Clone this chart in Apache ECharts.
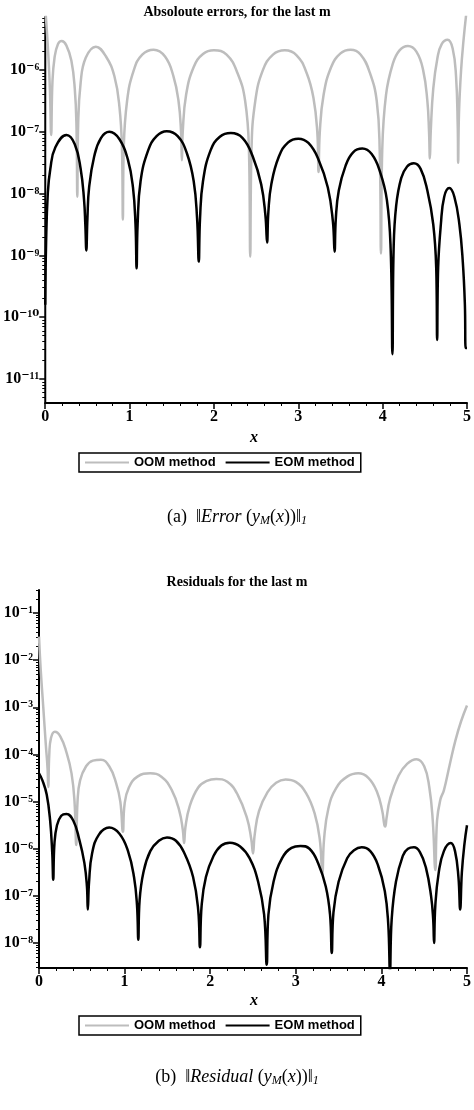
<!DOCTYPE html>
<html>
<head>
<meta charset="utf-8">
<script src="https://cdn.jsdelivr.net/npm/echarts@6/dist/echarts.min.js"></script>
<style>
  html, body { margin: 0; padding: 0; background: #fff; }
  #chart { width: 474px; height: 1110px; }
</style>
</head>
<body>
<div id="chart"></div>
<script>
// values are [x, log10(value)]
const errOOM = [[0,-5.0],[0.03,-5.6],[0.055,-6.3],[0.07,-7.05],[0.085,-6.2],[0.11,-5.8],[0.15,-5.58],[0.195,-5.53],[0.25,-5.6],[0.31,-5.85],[0.35,-6.3],[0.37,-6.9],[0.38,-8.05],[0.39,-6.9],[0.42,-6.2],[0.48,-5.8],[0.60,-5.62],[0.72,-5.78],[0.82,-6.1],[0.88,-6.6],[0.91,-7.3],[0.92,-8.42],[0.93,-7.3],[0.97,-6.5],[1.05,-6.0],[1.15,-5.75],[1.285,-5.67],[1.42,-5.78],[1.52,-6.1],[1.58,-6.5],[1.61,-7.0],[1.62,-7.46],[1.63,-7.0],[1.67,-6.4],[1.76,-5.95],[1.87,-5.74],[2.0,-5.68],[2.15,-5.75],[2.28,-6.05],[2.37,-6.5],[2.415,-7.3],[2.43,-9.02],[2.445,-7.3],[2.49,-6.5],[2.58,-6.0],[2.7,-5.75],[2.84,-5.68],[2.98,-5.76],[3.1,-6.05],[3.18,-6.45],[3.225,-7.0],[3.24,-7.65],[3.255,-7.0],[3.3,-6.4],[3.39,-5.95],[3.5,-5.73],[3.62,-5.67],[3.74,-5.75],[3.85,-6.05],[3.93,-6.5],[3.965,-7.3],[3.98,-8.97],[3.995,-7.3],[4.04,-6.4],[4.12,-5.9],[4.2,-5.68],[4.30,-5.61],[4.4,-5.7],[4.48,-6.0],[4.53,-6.5],[4.55,-7.0],[4.56,-7.43],[4.57,-7.0],[4.6,-6.3],[4.65,-5.8],[4.7,-5.58],[4.77,-5.51],[4.83,-5.65],[4.87,-6.1],[4.89,-6.9],[4.895,-7.5],[4.905,-6.7],[4.93,-6.0],[4.96,-5.5],[4.99,-5.1]];
const errEOM = [[0,-9.8],[0.01,-8.8],[0.03,-8.0],[0.06,-7.6],[0.12,-7.25],[0.253,-7.05],[0.35,-7.2],[0.42,-7.6],[0.46,-8.1],[0.475,-8.5],[0.487,-8.92],[0.5,-8.4],[0.52,-7.9],[0.58,-7.4],[0.66,-7.1],[0.76,-7.0],[0.88,-7.12],[0.98,-7.45],[1.04,-7.9],[1.07,-8.5],[1.083,-9.21],[1.095,-8.5],[1.13,-7.8],[1.22,-7.3],[1.32,-7.07],[1.44,-6.99],[1.57,-7.07],[1.68,-7.35],[1.76,-7.8],[1.80,-8.4],[1.82,-9.1],[1.835,-8.4],[1.87,-7.8],[1.96,-7.3],[2.07,-7.08],[2.2,-7.02],[2.34,-7.1],[2.46,-7.4],[2.56,-7.85],[2.61,-8.35],[2.63,-8.79],[2.645,-8.3],[2.68,-7.85],[2.77,-7.4],[2.88,-7.17],[3.0,-7.11],[3.12,-7.18],[3.24,-7.45],[3.35,-7.9],[3.41,-8.45],[3.43,-8.94],[3.445,-8.4],[3.48,-7.95],[3.56,-7.55],[3.65,-7.33],[3.76,-7.27],[3.87,-7.36],[3.97,-7.65],[4.05,-8.1],[4.095,-8.9],[4.116,-10.6],[4.13,-8.9],[4.16,-8.2],[4.22,-7.75],[4.29,-7.56],[4.37,-7.51],[4.45,-7.6],[4.53,-7.95],[4.6,-8.5],[4.635,-9.2],[4.646,-10.37],[4.658,-9.2],[4.69,-8.5],[4.73,-8.05],[4.79,-7.91],[4.85,-8.05],[4.91,-8.5],[4.95,-9.1],[4.975,-9.8],[4.985,-10.5],[5.0,-10.5]];
const resOOM = [[0,-1.5],[0.02,-2.2],[0.05,-3.0],[0.08,-3.8],[0.1,-4.3],[0.108,-4.69],[0.12,-4.0],[0.14,-3.65],[0.185,-3.52],[0.25,-3.62],[0.32,-3.95],[0.38,-4.4],[0.415,-5.0],[0.435,-5.92],[0.45,-5.0],[0.48,-4.55],[0.55,-4.25],[0.63,-4.13],[0.724,-4.11],[0.82,-4.25],[0.9,-4.6],[0.95,-5.0],[0.98,-5.64],[1.0,-5.05],[1.05,-4.7],[1.15,-4.47],[1.3,-4.4],[1.43,-4.47],[1.55,-4.75],[1.64,-5.2],[1.68,-5.6],[1.695,-5.88],[1.71,-5.55],[1.76,-5.1],[1.86,-4.7],[1.96,-4.56],[2.07,-4.52],[2.2,-4.58],[2.32,-4.85],[2.43,-5.35],[2.48,-5.8],[2.5,-6.1],[2.52,-5.7],[2.57,-5.2],[2.67,-4.8],[2.77,-4.6],[2.88,-4.53],[3.0,-4.58],[3.12,-4.82],[3.22,-5.25],[3.28,-5.8],[3.31,-6.52],[3.33,-5.8],[3.38,-5.15],[3.47,-4.72],[3.6,-4.47],[3.73,-4.40],[3.85,-4.5],[3.95,-4.8],[4.01,-5.2],[4.035,-5.5],[4.045,-5.53],[4.06,-5.35],[4.1,-4.95],[4.2,-4.45],[4.3,-4.2],[4.41,-4.10],[4.5,-4.25],[4.56,-4.7],[4.6,-5.4],[4.63,-6.45],[4.65,-5.4],[4.69,-4.95],[4.73,-4.76],[4.8,-4.2],[4.865,-3.70],[4.93,-3.3],[5.0,-2.96]];
const resEOM = [[0,-4.40],[0.04,-4.55],[0.09,-4.85],[0.13,-5.4],[0.155,-6.1],[0.166,-6.66],[0.18,-5.9],[0.21,-5.5],[0.26,-5.3],[0.32,-5.26],[0.4,-5.4],[0.47,-5.8],[0.53,-6.3],[0.56,-6.8],[0.57,-7.29],[0.585,-6.7],[0.62,-6.1],[0.7,-5.7],[0.82,-5.55],[0.94,-5.68],[1.04,-6.05],[1.11,-6.6],[1.145,-7.2],[1.16,-7.93],[1.175,-7.1],[1.22,-6.5],[1.3,-6.05],[1.4,-5.83],[1.495,-5.76],[1.6,-5.83],[1.7,-6.1],[1.8,-6.6],[1.86,-7.3],[1.88,-8.09],[1.9,-7.2],[1.95,-6.6],[2.04,-6.15],[2.13,-5.93],[2.23,-5.87],[2.35,-5.95],[2.46,-6.2],[2.56,-6.7],[2.63,-7.4],[2.66,-8.46],[2.68,-7.4],[2.74,-6.7],[2.84,-6.2],[2.95,-5.98],[3.055,-5.94],[3.16,-6.0],[3.26,-6.3],[3.35,-6.8],[3.40,-7.4],[3.42,-8.21],[3.44,-7.35],[3.5,-6.7],[3.6,-6.2],[3.68,-6.03],[3.77,-5.97],[3.87,-6.05],[3.96,-6.35],[4.04,-6.9],[4.08,-7.6],[4.10,-8.6],[4.12,-7.5],[4.17,-6.7],[4.25,-6.15],[4.31,-6.0],[4.38,-5.97],[4.45,-6.07],[4.52,-6.4],[4.58,-7.0],[4.605,-7.5],[4.615,-8.0],[4.63,-7.2],[4.67,-6.5],[4.73,-6.05],[4.81,-5.88],[4.86,-6.05],[4.9,-6.6],[4.92,-7.29],[4.94,-6.5],[4.97,-5.9],[5.0,-5.5]];

const errTicks = [-11, -10, -9, -8, -7, -6];
const resTicks = [-8, -7, -6, -5, -4, -3, -2, -1];
const minorOffsets = [0.301, 0.477, 0.602, 0.699, 0.778, 0.845, 0.903, 0.954];

const SERIF = '"Liberation Serif", "DejaVu Serif", serif';
const SANS = '"Liberation Sans", Arial, sans-serif';
const SUP = { '-': '⁻', '0': '⁰', '1': '¹', '2': '²', '3': '³', '4': '⁴', '5': '⁵', '6': '⁶', '7': '⁷', '8': '⁸', '9': '⁹' };
const powLabel = (v) => '10' + String(v).split('').map((c) => SUP[c]).join('');

function minorTicks(lo, hi) {
  const out = [];
  for (let d = Math.floor(lo); d < hi; d++) {
    minorOffsets.forEach((o) => { if (d + o > lo && d + o < hi) out.push(d + o); });
  }
  return out;
}

function yAxes(gridIndex, min, max, ticks) {
  const base = { type: 'value', gridIndex, min, max, position: 'left', splitLine: { show: false } };
  return [
    {
      ...base,
      axisLine: { show: true, lineStyle: { color: '#000', width: 2 } },
      axisTick: { show: true, customValues: ticks, length: 6, lineStyle: { color: '#000', width: 1.5 } },
      axisLabel: {
        customValues: ticks, formatter: powLabel, color: '#000', margin: 6,
        fontFamily: SERIF, fontWeight: 'bold', fontSize: 16,
      },
    },
    {
      ...base,
      axisLine: { show: false },
      axisTick: { show: true, customValues: minorTicks(min, max), length: 3, lineStyle: { color: '#000' } },
      axisLabel: { show: false },
    },
  ];
}

function xAxis(gridIndex) {
  return {
    type: 'value', gridIndex, min: 0, max: 5, interval: 1,
    splitLine: { show: false },
    axisLine: { lineStyle: { color: '#000', width: 2 } },
    axisTick: { length: 6, lineStyle: { color: '#000', width: 1.5 } },
    minorTick: { show: true, splitNumber: 5, length: 3, lineStyle: { color: '#000' } },
    axisLabel: { color: '#000', fontFamily: SERIF, fontWeight: 'bold', fontSize: 16, margin: 6, showMaxLabel: true },
  };
}

function line(name, data, xi, yi, color) {
  return {
    name, type: 'line', data, xAxisIndex: xi, yAxisIndex: yi,
    showSymbol: false, smooth: 0.45, clip: true,
    lineStyle: { color, width: 2.5 }, itemStyle: { color },
  };
}

function legend(top) {
  return {
    top, left: 79, width: 292, itemGap: 10, padding: [3, 6],
    borderColor: '#000', borderWidth: 1.5, borderRadius: 0,
    itemWidth: 44, itemHeight: 10, icon: 'path://M0,4L44,4L44,6L0,6Z',
    textStyle: { fontFamily: SANS, fontWeight: 'bold', fontSize: 13, color: '#000' },
    data: ['OOM method', 'EOM method'],
  };
}

function caption(y, letter, word) {
  return {
    type: 'text', left: 'center', top: y,
    style: {
      text: `{n|(${letter})  ‖}{i|${word}}{n| (}{i|y}{s|M}{n|(}{i|x}{n|))‖}{s|1}`,
      rich: {
        n: { fontFamily: SERIF, fontSize: 18, fill: '#000' },
        i: { fontFamily: SERIF, fontStyle: 'italic', fontSize: 18, fill: '#000' },
        s: { fontFamily: SERIF, fontStyle: 'italic', fontSize: 12, fill: '#000', padding: [8, 0, 0, 0] },
      },
    },
  };
}

const chart = echarts.init(document.getElementById('chart'));
chart.setOption({
  animation: false,
  backgroundColor: '#fff',
  title: [
    { text: 'Absoloute errors, for the last m', left: 'center', top: 0,
      textStyle: { fontFamily: SERIF, fontWeight: 'bold', fontSize: 14, color: '#000' } },
    { text: 'Residuals for the last m', left: 'center', top: 570,
      textStyle: { fontFamily: SERIF, fontWeight: 'bold', fontSize: 14, color: '#000' } },
  ],
  legend: [legend(453), legend(1016)],
  grid: [
    { left: 45, right: 1, top: 17, height: 386 },
    { left: 39, right: 1, top: 590, height: 378 },
  ],
  xAxis: [xAxis(0), xAxis(1)],
  yAxis: [...yAxes(0, -11.39, -5.14, errTicks), ...yAxes(1, -8.53, -0.51, resTicks)],
  series: [
    line('OOM method', errOOM, 0, 0, '#bdbdbd'),
    line('EOM method', errEOM, 0, 0, '#000'),
    line('OOM method', resOOM, 1, 2, '#bdbdbd'),
    line('EOM method', resEOM, 1, 2, '#000'),
  ],
  graphic: [
    { type: 'text', left: 250, top: 430, style: { text: 'x', font: `italic bold 16px ${SERIF}`, fill: '#000' } },
    { type: 'text', left: 250, top: 993, style: { text: 'x', font: `italic bold 16px ${SERIF}`, fill: '#000' } },
    caption(508, 'a', 'Error'),
    caption(1068, 'b', 'Residual'),
  ],
});
</script>
</body>
</html>
